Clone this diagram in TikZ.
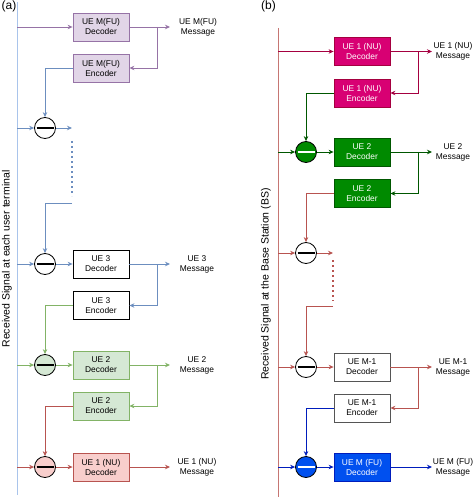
\documentclass[tikz,border=0pt]{standalone}
\usepackage{fontspec}
\setmainfont{Liberation Sans}
\usetikzlibrary{arrows.meta}
\definecolor{blS}{HTML}{6C8EBF}
\definecolor{vAc}{HTML}{A9C4EB}
\definecolor{purF}{HTML}{E1D5E7}
\definecolor{purS}{HTML}{9673A6}
\definecolor{grF}{HTML}{D5E8D4}
\definecolor{grS}{HTML}{82B366}
\definecolor{rdF}{HTML}{F8CECC}
\definecolor{rdS}{HTML}{B85450}
\definecolor{mgF}{HTML}{D80073}
\definecolor{mgS}{HTML}{A50040}
\definecolor{dgF}{HTML}{008A00}
\definecolor{dgS}{HTML}{005700}
\definecolor{buF}{HTML}{0050EF}
\definecolor{buS}{HTML}{001DBC}
\definecolor{gyS}{HTML}{555555}
\begin{document}
\begin{tikzpicture}[x=1pt,y=-1pt,
  box/.style={draw, rectangle, minimum width=56pt, minimum height=28pt, inner sep=0pt, align=center, font=\fontsize{8.4}{10}\selectfont, line width=0.8pt},
  msg/.style={align=center, font=\fontsize{8.4}{10}\selectfont, inner sep=0pt},
  sub/.style={draw=black, circle, minimum size=21pt, inner sep=0pt, line width=0.8pt},
  conn/.style={line width=0.8pt, -{Stealth[length=5pt,width=4.5pt]}},
  wire/.style={line width=0.8pt},
  dotline/.style={line width=2.4pt, dash pattern=on 2.4pt off 2.6pt},
  bar/.style={line width=2.3pt},
  lbl/.style={font=\fontsize{10.5}{12}\selectfont, rotate=90, inner sep=0pt},
  tag/.style={font=\fontsize{12}{14}\selectfont, inner sep=0pt}]
\useasboundingbox (0,0) rectangle (474,497);

% ---------------- panel (a) ----------------
\node[tag] (ta) at (9,6.5) {(a)};
\node[lbl] (lA) at (7,259) {Received Signal at each user terminal};
\coordinate (vA) at (17,0);
\coordinate (vAt) at (17,2);
\coordinate (vAb) at (17,495);
\coordinate (bA) at (157,0);
\coordinate (tA) at (170,0);
\coordinate (oA1) at (72,128);
\coordinate (dAt) at (72,141);
\coordinate (dAb) at (72,196);
\coordinate (jA) at (72,203);

\node[box, fill=purF, draw=purS] (dA1) at (101,27) {UE M(FU)\\Decoder};
\node[box, fill=purF, draw=purS] (eA1) at (101,68) {UE M(FU)\\Encoder};
\node[sub, fill=white] (cA1) at (45,128) {};
\node[sub, fill=white] (cA2) at (45,264) {};
\node[box, fill=white, draw=black] (dA2) at (101,264) {UE 3\\Decoder};
\node[box, fill=white, draw=black] (eA2) at (101,305.5) {UE 3\\Encoder};
\node[sub, fill=grF] (cA3) at (45,365) {};
\node[box, fill=grF, draw=grS] (dA3) at (101,365) {UE 2\\Decoder};
\node[box, fill=grF, draw=grS] (eA3) at (101,406) {UE 2\\Encoder};
\node[sub, fill=rdF] (cA4) at (45,467) {};
\node[box, fill=rdF, draw=rdS] (dA4) at (101,467) {UE 1 (NU)\\Decoder};

\node[msg] (mA1) at (198,27) {UE M(FU)\\Message};
\node[msg] (mA2) at (197,264) {UE 3\\Message};
\node[msg] (mA3) at (197,365) {UE 2\\Message};
\node[msg] (mA4) at (197,467) {UE 1 (NU)\\Message};

\foreach \c in {cA1,cA2,cA3,cA4}
  \draw[bar] ([xshift=-8.5pt]\c.center) -- ([xshift=8.5pt]\c.center);

\draw[wire, vAc] (vAt) -- (vAb);
\draw[conn, purS] (vA |- dA1.west) -- (dA1.west);
\draw[conn, purS] (dA1.east) -- (tA |- dA1.east);
\draw[conn, purS] (dA1.east -| bA) |- (eA1.east);
\draw[conn, blS] (eA1.west) -| (cA1.north);
\draw[conn, blS] (vA |- cA1.west) -- (cA1.west);
\draw[conn, blS] (cA1.east) -- (oA1);
\draw[dotline, blS] (dAt) -- (dAb);
\draw[conn, blS] (jA) -| (cA2.north);
\draw[conn, blS] (vA |- cA2.west) -- (cA2.west);
\draw[conn, blS] (cA2.east) -- (dA2.west);
\draw[conn, blS] (dA2.east) -- (tA |- dA2.east);
\draw[conn, blS] (dA2.east -| bA) |- (eA2.east);
\draw[conn, grS] (eA2.west) -| (cA3.north);
\draw[conn, grS] (vA |- cA3.west) -- (cA3.west);
\draw[conn, grS] (cA3.east) -- (dA3.west);
\draw[conn, grS] (dA3.east) -- (tA |- dA3.east);
\draw[conn, grS] (dA3.east -| bA) |- (eA3.east);
\draw[conn, rdS] (eA3.west) -| (cA4.north);
\draw[conn, rdS] (vA |- cA4.west) -- (cA4.west);
\draw[conn, rdS] (cA4.east) -- (dA4.west);
\draw[conn, rdS] (dA4.east) -- (tA |- dA4.east);

% ---------------- panel (b) ----------------
\node[tag] (tb) at (268.5,6) {(b)};
\node[lbl] (lB) at (266,284) {Received Signal at the Base Station (BS)};
\coordinate (vB) at (278,0);
\coordinate (vBt) at (278,28);
\coordinate (vBb) at (278,497);
\coordinate (bB) at (418,0);
\coordinate (tB) at (432,0);
\coordinate (oB3) at (333,253);
\coordinate (dBt) at (333,260);
\coordinate (dBb) at (333,301);
\coordinate (jB) at (333,306);

\node[box, fill=mgF, draw=mgS, text=white] (dB1) at (362,51.5) {UE 1 (NU)\\Decoder};
\node[box, fill=mgF, draw=mgS, text=white] (eB1) at (362,93) {UE 1 (NU)\\Encoder};
\node[sub, fill=dgF] (cB2) at (306,152) {};
\node[box, fill=dgF, draw=dgS, text=white] (dB2) at (362,152) {UE 2\\Decoder};
\node[box, fill=dgF, draw=dgS, text=white] (eB2) at (362,193.5) {UE 2\\Encoder};
\node[sub, fill=white] (cB3) at (306,253) {};
\node[sub, fill=white] (cB4) at (306,367) {};
\node[box, fill=white, draw=gyS] (dB4) at (362,367) {UE M-1\\Decoder};
\node[box, fill=white, draw=gyS] (eB4) at (362,408) {UE M-1\\Encoder};
\node[sub, fill=buF] (cB5) at (306,467) {};
\node[box, fill=buF, draw=buS, text=white] (dB5) at (362,467) {UE M (FU)\\Decoder};

\node[msg] (mB1) at (453,51.5) {UE 1 (NU)\\Message};
\node[msg] (mB2) at (453,152) {UE 2\\Message};
\node[msg] (mB4) at (453,367) {UE M-1\\Message};
\node[msg] (mB5) at (453,467) {UE M (FU)\\Message};

\foreach \c in {cB3,cB4}
  \draw[bar] ([xshift=-8.5pt]\c.center) -- ([xshift=8.5pt]\c.center);
\foreach \c in {cB2,cB5}
  \draw[bar, white] ([xshift=-8.5pt]\c.center) -- ([xshift=8.5pt]\c.center);

\draw[wire, rdS!80] (vBt) -- (vBb);
\draw[conn, mgS] (vB |- dB1.west) -- (dB1.west);
\draw[conn, mgS] (dB1.east) -- (tB |- dB1.east);
\draw[conn, mgS] (dB1.east -| bB) |- (eB1.east);
\draw[conn, dgS] (eB1.west) -| (cB2.north);
\draw[conn, dgS] (vB |- cB2.west) -- (cB2.west);
\draw[conn, dgS] (cB2.east) -- (dB2.west);
\draw[conn, dgS] (dB2.east) -- (tB |- dB2.east);
\draw[conn, dgS] (dB2.east -| bB) |- (eB2.east);
\draw[conn, rdS] (eB2.west) -| (cB3.north);
\draw[conn, rdS] (vB |- cB3.west) -- (cB3.west);
\draw[conn, rdS] (cB3.east) -- (oB3);
\draw[dotline, rdS] (dBt) -- (dBb);
\draw[conn, rdS] (jB) -| (cB4.north);
\draw[conn, rdS] (vB |- cB4.west) -- (cB4.west);
\draw[conn, rdS] (cB4.east) -- (dB4.west);
\draw[conn, rdS] (dB4.east) -- (tB |- dB4.east);
\draw[conn, rdS] (dB4.east -| bB) |- (eB4.east);
\draw[conn, buS] (eB4.west) -| (cB5.north);
\draw[conn, buS] (vB |- cB5.west) -- (cB5.west);
\draw[conn, buS] (cB5.east) -- (dB5.west);
\draw[conn, buS] (dB5.east) -- (tB |- dB5.east);
\end{tikzpicture}
\end{document}
